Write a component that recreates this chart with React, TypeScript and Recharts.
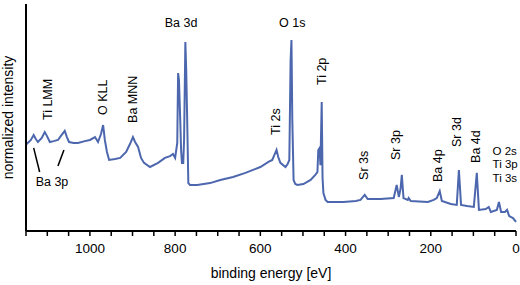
import React from "react";
import {
  LineChart,
  Line,
  XAxis,
  YAxis,
  ReferenceDot,
  ReferenceLine,
} from "recharts";

// binding energy (eV), high to low as drawn
const energy = [
  1150, 1146, 1139, 1132, 1127, 1122, 1113, 1106, 1101, 1094, 1085, 1075, 1068,
  1059, 1054, 1049, 1038, 1028, 1012, 1000, 988, 981, 974, 969, 965, 960, 955,
  941, 929, 915, 906, 899, 894, 887, 880, 873, 859, 840, 824, 812, 805, 800,
  795, 793, 791, 788, 786, 784, 781, 779, 776, 774, 772, 769, 765, 748, 718,
  694, 664, 635, 600, 581, 572, 567, 562, 558, 553, 541, 536, 532, 529, 527,
  525, 522, 518, 513, 499, 482, 471, 466, 464, 461, 459, 456, 454, 452, 447,
  442, 405, 376, 365, 355, 348, 318, 287, 280, 275, 271, 268, 264, 254, 252,
  247, 207, 193, 186, 179, 174, 153, 139, 134, 129, 115, 99, 92, 87, 71, 64,
  59, 45, 40, 35, 26, 21, 16, 7, 0,
];

// normalized intensity (arb. units, 0-100)
const intensity = [
  37.9, 38.8, 40, 42.3, 40.5, 39.2, 41, 43.6, 41.9, 39.2, 39.6, 40.1, 41.9,
  44.1, 41.4, 39.2, 38.8, 38.8, 39.6, 40.1, 41.4, 39.2, 42.7, 46.7, 40.1, 34.8,
  31.3, 31.7, 32.2, 34.8, 38.3, 41.4, 39.2, 37, 32.2, 30, 28.2, 30, 32.2, 33,
  33.9, 32.2, 38.8, 69.6, 66.5, 48.9, 35.7, 30, 30, 40, 83.3, 70.9, 52, 21.1,
  20.3, 20.3, 21.1, 22.5, 23.8, 25.6, 28.2, 30.4, 31.3, 33.5, 35.7, 32.6, 30,
  28.2, 29.5, 31.3, 75, 84.1, 49, 22.5, 20.7, 20.3, 20.7, 22.5, 24.7, 26, 35.7,
  36.6, 29, 56.8, 23.3, 16.7, 13.7, 12.8, 12.8, 13.2, 13.7, 15.9, 14.1, 14.1,
  14.5, 20.3, 15, 18.5, 24.7, 14.5, 13.7, 14.5, 13.2, 12.8, 13.7, 14.5, 17.6,
  13.2, 11.9, 11.5, 26.9, 11.5, 11, 10.6, 25.6, 9.3, 9.7, 10.6, 8.4, 9.3, 12.8,
  8.4, 8.4, 9.3, 6.6, 5.7, 4,
];

const xTicks = [
  0, 50, 100, 150, 200, 250, 300, 350, 400, 450, 500, 550, 600, 650, 700, 750,
  800, 850, 900, 950, 1000, 1050, 1100, 1150,
];

// peak labels written upward, anchored at their lower end
const verticalLabels = ["Ti LMM", "O KLL", "Ba MNN", "Ti 2s", "Ti 2p", "Sr 3s", "Sr 3p", "Ba 4p", "Sr 3d", "Ba 4d"];
const verticalLabelEnergy = [1099, 969, 899, 565, 456, 358, 282, 184, 139, 94];
const verticalLabelLevel = [48.9, 51.1, 47.6, 42.3, 64.3, 22.5, 31.3, 21.6, 37, 30];

// horizontal peak labels
const flatLabels = ["Ba 3d", "O 1s", "Ba 3p"];
const flatLabelEnergy = [786, 525, 1089];
const flatLabelLevel = [91.6, 91.6, 21.6];

// stacked low-energy labels, left aligned
const lowLabels = ["O 2s", "Ti 3p", "Ti 3s"];
const lowLabelEnergy = [55, 55, 55];
const lowLabelLevel = [35.2, 29.5, 23.3];

const data = energy.map((e, i) => ({ energy: e, intensity: intensity[i] }));

const FONT = "'Liberation Sans', Arial, sans-serif";
const LINE_COLOR = "#4c67ad";

export default function App() {
  return (
    <div style={{ position: "absolute", left: 0, top: 0 }}>
      <LineChart
        width={520}
        height={285}
        data={data}
        margin={{ top: 4, right: 4, bottom: 0, left: 0 }}
        style={{ fontFamily: FONT }}
      >
        <XAxis
          dataKey="energy"
          type="number"
          domain={[0, 1150]}
          reversed
          ticks={xTicks}
          interval={0}
          height={54}
          tickSize={5}
          tickMargin={7}
          tickFormatter={(v: number) => (v % 200 === 0 ? String(v) : "")}
          tick={{ fill: "#000", fontSize: 13.5, fontFamily: FONT }}
          axisLine={{ stroke: "#000", strokeWidth: 2 }}
          tickLine={{ stroke: "#000", strokeWidth: 1.5 }}
          label={{
            content: ({ viewBox }: any) => (
              <text
                x={viewBox.x + viewBox.width / 2}
                y={viewBox.y + 47}
                textAnchor="middle"
                fontSize={14}
                fontFamily={FONT}
                fill="#000"
              >
                binding energy [eV]
              </text>
            ),
          }}
        />
        <XAxis
          xAxisId="top"
          orientation="top"
          type="number"
          domain={[0, 1]}
          height={0}
          tick={false}
          tickLine={false}
          axisLine={{ stroke: "#000", strokeWidth: 2 }}
        />
        <YAxis
          type="number"
          domain={[0, 100]}
          width={26}
          tick={false}
          tickLine={false}
          axisLine={{ stroke: "#000", strokeWidth: 2 }}
          label={{
            content: ({ viewBox }: any) => {
              const cx = 8;
              const cy = viewBox.y + viewBox.height / 2;
              return (
                <text
                  x={cx}
                  y={cy}
                  dy="0.35em"
                  textAnchor="middle"
                  transform={`rotate(-90, ${cx}, ${cy})`}
                  fontSize={14}
                  fontFamily={FONT}
                  fill="#000"
                >
                  normalized intensity
                </text>
              );
            },
          }}
        />
        <YAxis
          yAxisId="right"
          orientation="right"
          type="number"
          domain={[0, 1]}
          width={0}
          tick={false}
          tickLine={false}
          axisLine={{ stroke: "#000", strokeWidth: 2 }}
        />
        <Line
          type="linear"
          dataKey="intensity"
          stroke={LINE_COLOR}
          strokeWidth={2}
          dot={false}
          isAnimationActive={false}
        />
        {verticalLabels.map((t, i) => (
          <ReferenceDot
            key={t}
            x={verticalLabelEnergy[i]}
            y={verticalLabelLevel[i]}
            ifOverflow="visible"
            shape={(p: any) => (
              <text
                x={p.cx}
                y={p.cy}
                dy="0.35em"
                textAnchor="start"
                transform={`rotate(-90, ${p.cx}, ${p.cy})`}
                fontSize={12.5}
                fontFamily={FONT}
                fill="#000"
              >
                {t}
              </text>
            )}
          />
        ))}
        {flatLabels.map((t, i) => (
          <ReferenceDot
            key={t}
            x={flatLabelEnergy[i]}
            y={flatLabelLevel[i]}
            ifOverflow="visible"
            shape={(p: any) => (
              <text
                x={p.cx}
                y={p.cy}
                dy="0.35em"
                textAnchor="middle"
                fontSize={12.5}
                fontFamily={FONT}
                fill="#000"
              >
                {t}
              </text>
            )}
          />
        ))}
        {lowLabels.map((t, i) => (
          <ReferenceDot
            key={t}
            x={lowLabelEnergy[i]}
            y={lowLabelLevel[i]}
            ifOverflow="visible"
            shape={(p: any) => (
              <text
                x={p.cx}
                y={p.cy}
                dy="0.35em"
                textAnchor="start"
                fontSize={11.5}
                fontFamily={FONT}
                fill="#000"
              >
                {t}
              </text>
            )}
          />
        ))}
        {/* leader lines from "Ba 3p" to its two peaks */}
        <ReferenceLine
          segment={[{ x: 1132, y: 36.6 }, { x: 1118, y: 26 }]}
          stroke="#000"
          strokeWidth={1.5}
          ifOverflow="visible"
        />
        <ReferenceLine
          segment={[{ x: 1061, y: 35.7 }, { x: 1075, y: 28.6 }]}
          stroke="#000"
          strokeWidth={1.5}
          ifOverflow="visible"
        />
      </LineChart>
    </div>
  );
}
